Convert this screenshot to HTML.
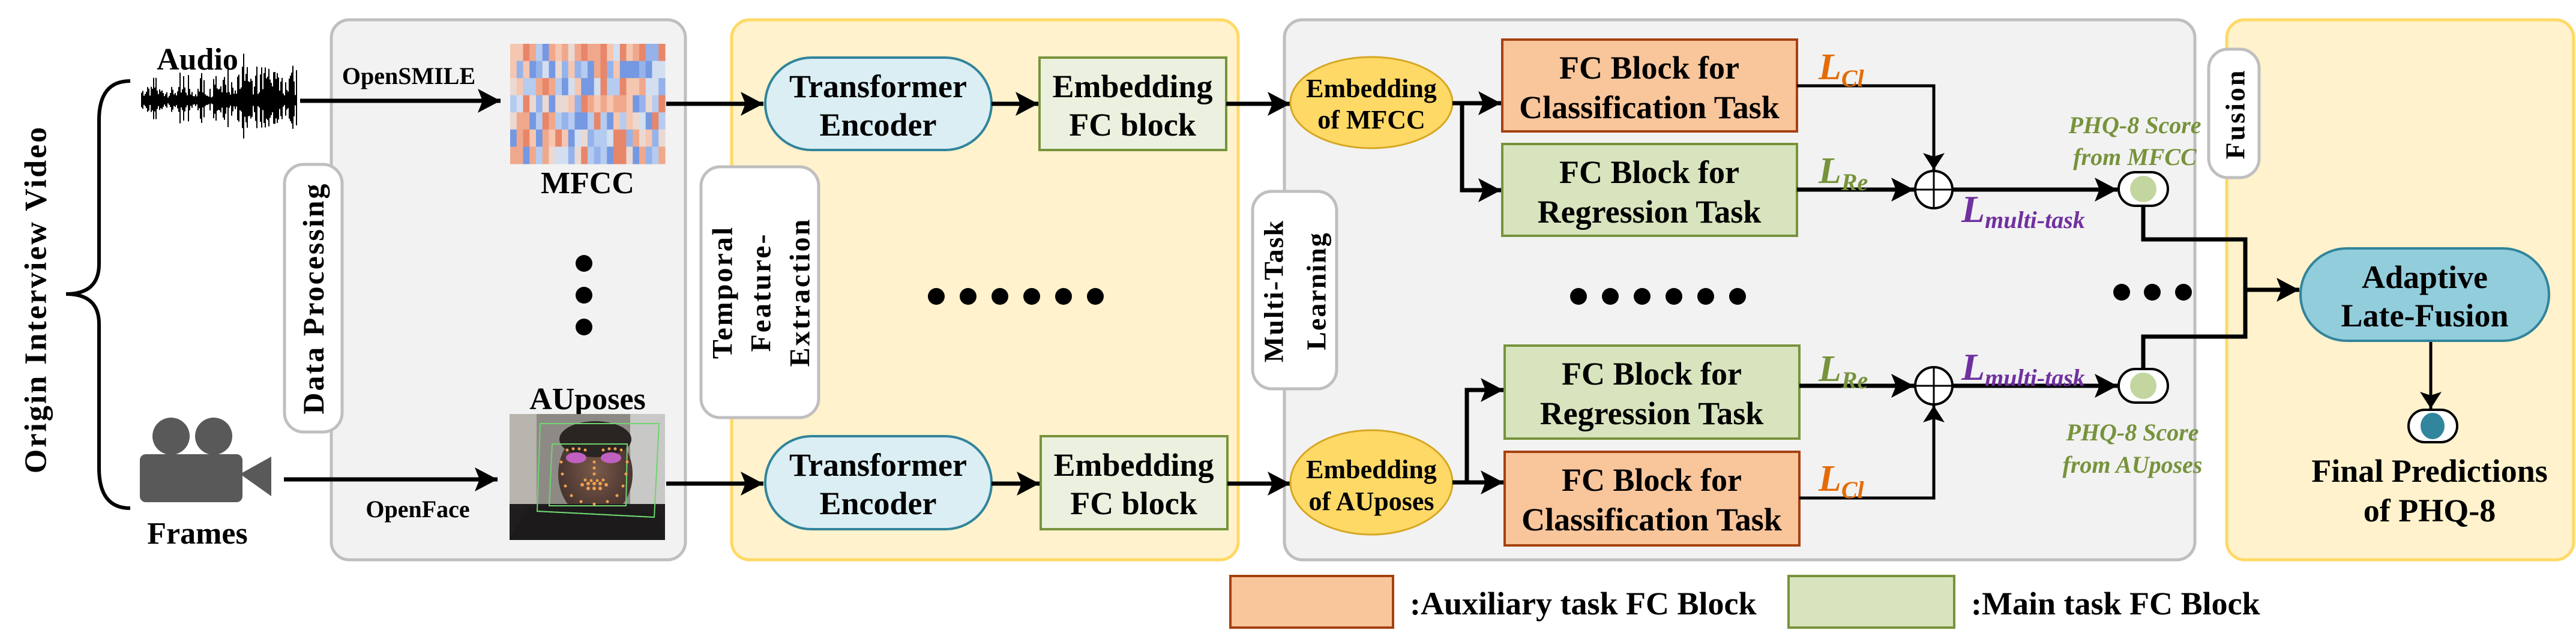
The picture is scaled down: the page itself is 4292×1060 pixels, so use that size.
<!DOCTYPE html>
<html><head><meta charset="utf-8"><style>
html,body{margin:0;padding:0;background:#fff;}
svg{display:block;}
svg text{font-family:"Liberation Serif","Times New Roman",serif;font-weight:bold;}
</style></head><body>
<svg id="s" width="4292" height="1060" viewBox="0 0 4292 1060" xmlns="http://www.w3.org/2000/svg" font-family="Liberation Serif, serif" font-weight="bold">
<defs>
<marker id="a" markerUnits="userSpaceOnUse" markerWidth="40" markerHeight="40" refX="38" refY="20" orient="auto">
<path d="M0,0 L38,20 L0,40 L8,20 z" fill="#000"/></marker>
<marker id="b" markerUnits="userSpaceOnUse" markerWidth="30" markerHeight="36" refX="28" refY="18" orient="auto">
<path d="M0,0 L28,18 L0,36 L6,18 z" fill="#000"/></marker>
<radialGradient id="face" cx="50%" cy="45%" r="50%"><stop offset="0" stop-color="#7a5a4a"/><stop offset="1" stop-color="#4a3530"/></radialGradient>
</defs>

<!-- panels -->
<rect x="552" y="33" width="590" height="900" rx="30" fill="#f2f2f2" stroke="#bfbfbf" stroke-width="5"/>
<rect x="1219" y="33" width="844" height="900" rx="30" fill="#fff2cc" stroke="#ffd966" stroke-width="5"/>
<rect x="2140" y="33" width="1517" height="900" rx="30" fill="#f2f2f2" stroke="#bfbfbf" stroke-width="5"/>
<rect x="3710" y="33" width="578" height="900" rx="30" fill="#fff2cc" stroke="#ffd966" stroke-width="5"/>

<!-- label boxes -->
<rect x="474" y="274" width="96" height="446" rx="32" fill="#fff" stroke="#bfbfbf" stroke-width="5"/>
<text transform="translate(522,497) rotate(-90)" text-anchor="middle" dominant-baseline="central" font-size="50" letter-spacing="3">Data Processing</text>
<rect x="1168" y="278" width="196" height="418" rx="32" fill="#fff" stroke="#bfbfbf" stroke-width="5"/>
<g font-size="48" letter-spacing="3" text-anchor="middle" dominant-baseline="central">
<text transform="translate(1204,487) rotate(-90)">Temporal</text>
<text transform="translate(1268,487) rotate(-90)">Feature-</text>
<text transform="translate(1333,487) rotate(-90)">Extraction</text>
</g>
<rect x="2087" y="319" width="140" height="329" rx="32" fill="#fff" stroke="#bfbfbf" stroke-width="5"/>
<g font-size="46" letter-spacing="2" text-anchor="middle" dominant-baseline="central">
<text transform="translate(2122,485) rotate(-90)">Multi-Task</text>
<text transform="translate(2193,485) rotate(-90)">Learning</text>
</g>
<rect x="3680" y="82" width="84" height="214" rx="32" fill="#fff" stroke="#bfbfbf" stroke-width="5"/>
<text transform="translate(3724,190) rotate(-90)" text-anchor="middle" dominant-baseline="central" font-size="46" letter-spacing="3">Fusion</text>

<!-- origin -->
<text transform="translate(60,499) rotate(-90)" text-anchor="middle" dominant-baseline="central" font-size="52" letter-spacing="3">Origin Interview Video</text>
<path d="M217,135 Q165,135 165,200 L165,440 Q165,490 110,490 Q165,490 165,540 L165,780 Q165,847 217,847" fill="none" stroke="#000" stroke-width="6"/>

<text x="329" y="116" text-anchor="middle" font-size="52">Audio</text>
<g id="wave" fill="#000"></g>
<text x="329" y="906" text-anchor="middle" font-size="52">Frames</text>
<!-- camera -->
<g fill="#595959">
<circle cx="285" cy="727" r="31"/><circle cx="356" cy="727" r="31"/>
<rect x="233" y="757" width="171" height="80" rx="10"/>
<path d="M400,790 L452,761 L452,827 z"/>
</g>

<!-- data processing -->
<text x="681" y="140" text-anchor="middle" font-size="40">OpenSMILE</text>
<line x1="500" y1="168" x2="834" y2="168" stroke="#000" stroke-width="7" marker-end="url(#a)"/>
<text x="696" y="862" text-anchor="middle" font-size="40">OpenFace</text>
<line x1="473" y1="799" x2="829" y2="799" stroke="#000" stroke-width="7" marker-end="url(#a)"/>
<g id="mfcc"></g>
<text x="979" y="322" text-anchor="middle" font-size="52">MFCC</text>
<text x="979" y="682" text-anchor="middle" font-size="52">AUposes</text>
<circle cx="973" cy="439" r="14"/><circle cx="973" cy="492" r="14"/><circle cx="973" cy="545" r="14"/>
<!-- face -->
<g>
<rect x="849" y="690" width="259" height="210" fill="#8d8a86"/>
<rect x="849" y="690" width="45" height="150" fill="#b8b4ae"/>
<rect x="1050" y="690" width="58" height="150" fill="#c8c8c6"/>
<ellipse cx="992" cy="790" rx="62" ry="75" fill="url(#face)"/>
<ellipse cx="992" cy="732" rx="60" ry="30" fill="#2a2422"/>
<rect x="849" y="840" width="259" height="60" fill="#1f1d1e"/>
<path d="M880,845 Q992,830 1100,860 L1108,900 L849,900 z" fill="#1c1a1b"/>
<polygon points="900,706 1098,706 1090,862 895,852" fill="none" stroke="#6fd46f" stroke-width="2"/>
<polygon points="920,740 1045,740 1043,843 915,843" fill="none" stroke="#6fd46f" stroke-width="2"/>
<line x1="895" y1="852" x2="1090" y2="862" stroke="#6fd46f" stroke-width="2"/>
<ellipse cx="960" cy="763" rx="17" ry="9" fill="#c060c0"/><ellipse cx="1018" cy="763" rx="17" ry="9" fill="#c060c0"/>
<g fill="#f0a050">
<circle cx="945" cy="750" r="2.5"/><circle cx="955" cy="748" r="2.5"/><circle cx="965" cy="748" r="2.5"/><circle cx="975" cy="750" r="2.5"/>
<circle cx="1005" cy="750" r="2.5"/><circle cx="1015" cy="748" r="2.5"/><circle cx="1025" cy="748" r="2.5"/><circle cx="1035" cy="750" r="2.5"/>
<circle cx="990" cy="770" r="2.5"/><circle cx="990" cy="780" r="2.5"/><circle cx="990" cy="790" r="2.5"/>
<circle cx="975" cy="800" r="2.5"/><circle cx="985" cy="801" r="2.5"/><circle cx="995" cy="801" r="2.5"/><circle cx="1005" cy="800" r="2.5"/>
<circle cx="970" cy="808" r="3"/><circle cx="980" cy="806" r="3"/><circle cx="990" cy="806" r="3"/><circle cx="1000" cy="806" r="3"/><circle cx="1010" cy="808" r="3"/>
<circle cx="980" cy="814" r="3"/><circle cx="990" cy="814" r="3"/><circle cx="1000" cy="814" r="3"/>
<circle cx="935" cy="770" r="2.5"/><circle cx="937" cy="790" r="2.5"/><circle cx="942" cy="810" r="2.5"/><circle cx="952" cy="826" r="2.5"/><circle cx="968" cy="836" r="2.5"/><circle cx="990" cy="840" r="2.5"/><circle cx="1012" cy="836" r="2.5"/><circle cx="1028" cy="826" r="2.5"/><circle cx="1038" cy="810" r="2.5"/><circle cx="1043" cy="790" r="2.5"/><circle cx="1045" cy="770" r="2.5"/>
</g>
</g>

<!-- temporal -->
<line x1="1110" y1="173" x2="1272" y2="173" stroke="#000" stroke-width="7" marker-end="url(#a)"/>
<line x1="1110" y1="806" x2="1272" y2="806" stroke="#000" stroke-width="7" marker-end="url(#a)"/>
<g fill="#daeef3" stroke="#31849b" stroke-width="4">
<rect x="1275" y="96" width="377" height="154" rx="77"/>
<rect x="1275" y="727" width="377" height="155" rx="77"/>
</g>
<g fill="#ebf1de" stroke="#77933c" stroke-width="4">
<rect x="1732" y="96" width="311" height="154"/>
<rect x="1734" y="727" width="311" height="155"/>
</g>
<g font-size="54" text-anchor="middle">
<text x="1463" y="162">Transformer</text><text x="1463" y="226">Encoder</text>
<text x="1887" y="162">Embedding</text><text x="1887" y="226">FC block</text>
<text x="1463" y="793">Transformer</text><text x="1463" y="857">Encoder</text>
<text x="1889" y="793">Embedding</text><text x="1889" y="857">FC block</text>
</g>
<line x1="1652" y1="173" x2="1730" y2="173" stroke="#000" stroke-width="7" marker-end="url(#a)"/>
<line x1="1652" y1="806" x2="1732" y2="806" stroke="#000" stroke-width="7" marker-end="url(#a)"/>
<line x1="2043" y1="173" x2="2150" y2="173" stroke="#000" stroke-width="7" marker-end="url(#a)"/>
<line x1="2045" y1="806" x2="2150" y2="806" stroke="#000" stroke-width="7" marker-end="url(#a)"/>
<g fill="#000">
<circle cx="1560" cy="494" r="14"/><circle cx="1613" cy="494" r="14"/><circle cx="1666" cy="494" r="14"/><circle cx="1719" cy="494" r="14"/><circle cx="1772" cy="494" r="14"/><circle cx="1825" cy="494" r="14"/>
<circle cx="2630" cy="494" r="14"/><circle cx="2683" cy="494" r="14"/><circle cx="2736" cy="494" r="14"/><circle cx="2789" cy="494" r="14"/><circle cx="2842" cy="494" r="14"/><circle cx="2895" cy="494" r="14"/>
<circle cx="3535" cy="487" r="14"/><circle cx="3586" cy="487" r="14"/><circle cx="3638" cy="487" r="14"/>
</g>

<!-- multitask -->
<g fill="#ffd966" stroke="#d6a722" stroke-width="3">
<ellipse cx="2285" cy="171" rx="135" ry="76"/>
<ellipse cx="2285" cy="804" rx="135" ry="87"/>
</g>
<g font-size="44" text-anchor="middle">
<text x="2285" y="162">Embedding</text><text x="2285" y="214">of MFCC</text>
<text x="2285" y="797">Embedding</text><text x="2285" y="850">of AUposes</text>
</g>
<g fill="#f9c59b" stroke="#a5410f" stroke-width="4">
<rect x="2503" y="66" width="491" height="153"/>
<rect x="2507" y="753" width="491" height="156"/>
</g>
<g fill="#d7e4bd" stroke="#77933c" stroke-width="4">
<rect x="2503" y="240" width="491" height="153"/>
<rect x="2507" y="576" width="491" height="155"/>
</g>
<g font-size="54" text-anchor="middle">
<text x="2748" y="131">FC Block for</text><text x="2748" y="197">Classification Task</text>
<text x="2748" y="305">FC Block for</text><text x="2748" y="371">Regression Task</text>
<text x="2752" y="641">FC Block for</text><text x="2752" y="707">Regression Task</text>
<text x="2752" y="818">FC Block for</text><text x="2752" y="884">Classification Task</text>
</g>
<g fill="none" stroke="#000" stroke-width="7">
<line x1="2420" y1="172" x2="2501" y2="172" marker-end="url(#a)"/>
<polyline points="2436,172 2436,317 2501,317" marker-end="url(#a)"/>
<line x1="2420" y1="804" x2="2505" y2="804" marker-end="url(#a)"/>
<polyline points="2444,804 2444,650 2505,650" marker-end="url(#a)"/>
<line x1="2994" y1="316" x2="3189" y2="316" marker-end="url(#a)"/>
<line x1="2998" y1="643" x2="3189" y2="643" marker-end="url(#a)"/>
<line x1="3253" y1="316" x2="3528" y2="316" marker-end="url(#a)"/>
<line x1="3253" y1="643" x2="3528" y2="643" marker-end="url(#a)"/>
<polyline points="3571,342 3571,399 3741,399 3741,561 3571,561 3571,615"/>
<line x1="3741" y1="483" x2="3831" y2="483" marker-end="url(#a)"/>
</g>
<g fill="none" stroke="#000" stroke-width="5">
<polyline points="2994,143 3222,143 3222,283" marker-end="url(#b)"/>
<polyline points="2998,830 3222,830 3222,676" marker-end="url(#b)"/>
<line x1="4050" y1="568" x2="4050" y2="681" marker-end="url(#b)"/>
</g>
<g fill="#fff" stroke="#000" stroke-width="4">
<circle cx="3222" cy="316" r="31"/><circle cx="3222" cy="643" r="31"/>
<rect x="3530" y="287" width="82" height="56" rx="28"/>
<rect x="3530" y="615" width="82" height="56" rx="28"/>
<rect x="4013" y="683" width="81" height="54" rx="27"/>
</g>
<g stroke="#000" stroke-width="3">
<line x1="3191" y1="316" x2="3253" y2="316"/><line x1="3222" y1="285" x2="3222" y2="347"/>
<line x1="3191" y1="643" x2="3253" y2="643"/><line x1="3222" y1="612" x2="3222" y2="674"/>
</g>
<circle cx="3571" cy="315" r="22" fill="#c4d6a0"/>
<circle cx="3571" cy="643" r="22" fill="#c4d6a0"/>
<ellipse cx="4053" cy="710" rx="20" ry="22" fill="#31859c"/>

<!-- loss labels -->
<g font-style="italic">
<text x="3030" y="132" font-size="62" fill="#e36c09">L<tspan font-size="40" dy="12">Cl</tspan></text>
<text x="3030" y="305" font-size="62" fill="#77933c">L<tspan font-size="40" dy="12">Re</tspan></text>
<text x="3030" y="635" font-size="62" fill="#77933c">L<tspan font-size="40" dy="12">Re</tspan></text>
<text x="3030" y="818" font-size="62" fill="#e36c09">L<tspan font-size="40" dy="12">Cl</tspan></text>
<text x="3268" y="370" font-size="64" fill="#7030a0">L<tspan font-size="40" dy="10">multi-task</tspan></text>
<text x="3268" y="633" font-size="64" fill="#7030a0">L<tspan font-size="40" dy="10">multi-task</tspan></text>
<g font-size="40" fill="#77933c" text-anchor="middle">
<text x="3557" y="222">PHQ-8 Score</text><text x="3557" y="275">from MFCC</text>
<text x="3553" y="734">PHQ-8 Score</text><text x="3553" y="788">from AUposes</text>
</g>
</g>

<!-- fusion -->
<rect x="3833" y="414" width="414" height="154" rx="77" fill="#92cddc" stroke="#31849b" stroke-width="4"/>
<g font-size="54" text-anchor="middle">
<text x="4040" y="480">Adaptive</text><text x="4040" y="544">Late-Fusion</text>
<text x="4048" y="803">Final Predictions</text><text x="4048" y="869">of PHQ-8</text>
</g>

<!-- legend -->
<rect x="2050" y="960" width="271" height="86" fill="#f9c59b" stroke="#a5410f" stroke-width="4"/>
<rect x="2980" y="960" width="276" height="86" fill="#d7e4bd" stroke="#77933c" stroke-width="4"/>
<g font-size="54"><text x="2349" y="1024">:Auxiliary task FC Block</text><text x="3284" y="1024">:Main task FC Block</text></g>
</svg>
<script>
(function(){
var NS="http://www.w3.org/2000/svg";
function r(seed){var x=Math.sin(seed*12.9898)*43758.5453;return x-Math.floor(x);}
var m=document.getElementById("mfcc");
var x0=850,y0=73,w=258,h=200,cols=24,rows=7;
var cw=w/cols,rh=h/rows;
var pal=["#e8866a","#f0a88c","#f5c6b0","#ead9d2","#d3dff0","#b5cbef","#95b3ea","#7598e2"];
for(var i=0;i<cols;i++)for(var j=0;j<rows;j++){
 var v=r(i*31+j*7+1),c;
 if(j==0&&r(i+3)>0.4)v=v*0.3;
 c=pal[Math.floor(v*pal.length)];
 var e=document.createElementNS(NS,"rect");
 e.setAttribute("x",x0+i*cw);e.setAttribute("y",y0+j*rh);
 e.setAttribute("width",cw+0.6);e.setAttribute("height",rh+0.6);e.setAttribute("fill",c);
 m.appendChild(e);}
var g=document.getElementById("wave");
for(var k=0;k<130;k++){
 var x=235+k*2,a=(k<60?18:30)*(0.3+r(k+5))+ (r(k*3)>0.85?25:0);
 if(k>75&&k<110&&r(k+9)>0.6)a+=20;
 var e2=document.createElementNS(NS,"rect");
 e2.setAttribute("x",x);e2.setAttribute("y",168-a);
 e2.setAttribute("width",2);e2.setAttribute("height",2*a*0.9);
 g.appendChild(e2);}
})();
</script>
</body></html>
